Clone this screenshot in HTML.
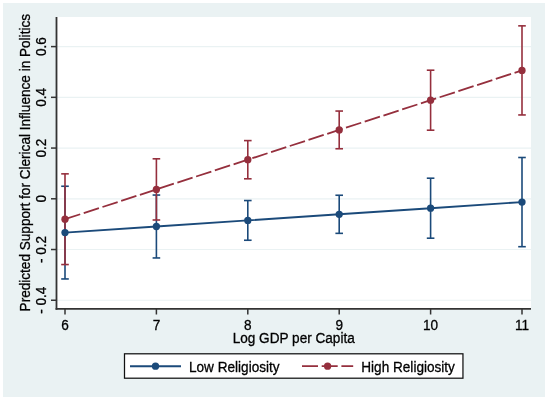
<!DOCTYPE html><html><head><meta charset="utf-8"><style>html,body{margin:0;padding:0;background:#fff;width:550px;height:400px;overflow:hidden}svg{display:block;will-change:transform;font-family:"Liberation Sans",sans-serif}</style></head><body>
<svg width="550" height="400" viewBox="0 0 550 400">
<rect x="0" y="0" width="550" height="400" fill="#fff"/>
<rect x="3" y="3" width="542" height="394" fill="#eaf2f3"/>
<rect x="57" y="17" width="474" height="291" fill="#fff"/>
<line x1="57" x2="531" y1="46.60" y2="46.60" stroke="#eaf2f3" stroke-width="1.2"/>
<line x1="57" x2="531" y1="97.33" y2="97.33" stroke="#eaf2f3" stroke-width="1.2"/>
<line x1="57" x2="531" y1="148.06" y2="148.06" stroke="#eaf2f3" stroke-width="1.2"/>
<line x1="57" x2="531" y1="198.79" y2="198.79" stroke="#eaf2f3" stroke-width="1.2"/>
<line x1="57" x2="531" y1="249.52" y2="249.52" stroke="#eaf2f3" stroke-width="1.2"/>
<line x1="57" x2="531" y1="300.25" y2="300.25" stroke="#eaf2f3" stroke-width="1.2"/>
<line x1="56.5" x2="56.5" y1="17" y2="309.8" stroke="#333" stroke-width="1.8"/>
<line x1="55.6" x2="531" y1="308.9" y2="308.9" stroke="#333" stroke-width="1.8"/>
<line x1="51" x2="56" y1="46.60" y2="46.60" stroke="#333" stroke-width="1.5"/>
<text transform="translate(46,46.60) rotate(-90) scale(0.9066666666666666,1)" text-anchor="middle" font-size="15.0" fill="#000" stroke="#000" stroke-width="0.3">0.6</text>
<line x1="51" x2="56" y1="97.33" y2="97.33" stroke="#333" stroke-width="1.5"/>
<text transform="translate(46,97.33) rotate(-90) scale(0.9066666666666666,1)" text-anchor="middle" font-size="15.0" fill="#000" stroke="#000" stroke-width="0.3">0.4</text>
<line x1="51" x2="56" y1="148.06" y2="148.06" stroke="#333" stroke-width="1.5"/>
<text transform="translate(46,148.06) rotate(-90) scale(0.9066666666666666,1)" text-anchor="middle" font-size="15.0" fill="#000" stroke="#000" stroke-width="0.3">0.2</text>
<line x1="51" x2="56" y1="198.79" y2="198.79" stroke="#333" stroke-width="1.5"/>
<text transform="translate(46,198.79) rotate(-90) scale(0.9066666666666666,1)" text-anchor="middle" font-size="15.0" fill="#000" stroke="#000" stroke-width="0.3">0</text>
<line x1="51" x2="56" y1="249.52" y2="249.52" stroke="#333" stroke-width="1.5"/>
<text transform="translate(46,249.52) rotate(-90) scale(0.9066666666666666,1)" text-anchor="middle" font-size="15.0" fill="#000" stroke="#000" stroke-width="0.3">- 0.2</text>
<line x1="51" x2="56" y1="300.25" y2="300.25" stroke="#333" stroke-width="1.5"/>
<text transform="translate(46,300.25) rotate(-90) scale(0.9066666666666666,1)" text-anchor="middle" font-size="15.0" fill="#000" stroke="#000" stroke-width="0.3">- 0.4</text>
<line x1="65" x2="65" y1="309" y2="314.5" stroke="#333" stroke-width="1.5"/>
<text transform="translate(65,329.6) scale(0.9066666666666666,1)" text-anchor="middle" font-size="15.0" fill="#000" stroke="#000" stroke-width="0.3">6</text>
<line x1="156.4" x2="156.4" y1="309" y2="314.5" stroke="#333" stroke-width="1.5"/>
<text transform="translate(156.4,329.6) scale(0.9066666666666666,1)" text-anchor="middle" font-size="15.0" fill="#000" stroke="#000" stroke-width="0.3">7</text>
<line x1="247.8" x2="247.8" y1="309" y2="314.5" stroke="#333" stroke-width="1.5"/>
<text transform="translate(247.8,329.6) scale(0.9066666666666666,1)" text-anchor="middle" font-size="15.0" fill="#000" stroke="#000" stroke-width="0.3">8</text>
<line x1="339.2" x2="339.2" y1="309" y2="314.5" stroke="#333" stroke-width="1.5"/>
<text transform="translate(339.2,329.6) scale(0.9066666666666666,1)" text-anchor="middle" font-size="15.0" fill="#000" stroke="#000" stroke-width="0.3">9</text>
<line x1="430.6" x2="430.6" y1="309" y2="314.5" stroke="#333" stroke-width="1.5"/>
<text transform="translate(430.6,329.6) scale(0.9066666666666666,1)" text-anchor="middle" font-size="15.0" fill="#000" stroke="#000" stroke-width="0.3">10</text>
<line x1="522" x2="522" y1="309" y2="314.5" stroke="#333" stroke-width="1.5"/>
<text transform="translate(522,329.6) scale(0.9066666666666666,1)" text-anchor="middle" font-size="15.0" fill="#000" stroke="#000" stroke-width="0.3">11</text>
<text transform="translate(293.7,342.8) scale(0.9066666666666666,1)" text-anchor="middle" font-size="15.0" fill="#000" stroke="#000" stroke-width="0.3">Log GDP per Capita</text>
<text transform="translate(29.6,162.7) rotate(-90) scale(0.9066666666666666,1)" text-anchor="middle" font-size="15.0" fill="#000" stroke="#000" stroke-width="0.3">Predicted Support for Clerical Influence in Politics</text>
<line x1="65" x2="65" y1="186.25" y2="278.95" stroke="#1b4a7a" stroke-width="1.6"/>
<line x1="61.20" x2="68.80" y1="186.25" y2="186.25" stroke="#1b4a7a" stroke-width="1.6"/>
<line x1="61.20" x2="68.80" y1="278.95" y2="278.95" stroke="#1b4a7a" stroke-width="1.6"/>
<line x1="156.4" x2="156.4" y1="195.05" y2="257.95" stroke="#1b4a7a" stroke-width="1.6"/>
<line x1="152.60" x2="160.20" y1="195.05" y2="195.05" stroke="#1b4a7a" stroke-width="1.6"/>
<line x1="152.60" x2="160.20" y1="257.95" y2="257.95" stroke="#1b4a7a" stroke-width="1.6"/>
<line x1="247.8" x2="247.8" y1="200.55" y2="240.25" stroke="#1b4a7a" stroke-width="1.6"/>
<line x1="244.00" x2="251.60" y1="200.55" y2="200.55" stroke="#1b4a7a" stroke-width="1.6"/>
<line x1="244.00" x2="251.60" y1="240.25" y2="240.25" stroke="#1b4a7a" stroke-width="1.6"/>
<line x1="339.2" x2="339.2" y1="195.25" y2="233.35" stroke="#1b4a7a" stroke-width="1.6"/>
<line x1="335.40" x2="343.00" y1="195.25" y2="195.25" stroke="#1b4a7a" stroke-width="1.6"/>
<line x1="335.40" x2="343.00" y1="233.35" y2="233.35" stroke="#1b4a7a" stroke-width="1.6"/>
<line x1="430.6" x2="430.6" y1="178.20" y2="238.20" stroke="#1b4a7a" stroke-width="1.6"/>
<line x1="426.80" x2="434.40" y1="178.20" y2="178.20" stroke="#1b4a7a" stroke-width="1.6"/>
<line x1="426.80" x2="434.40" y1="238.20" y2="238.20" stroke="#1b4a7a" stroke-width="1.6"/>
<line x1="522" x2="522" y1="157.50" y2="246.70" stroke="#1b4a7a" stroke-width="1.6"/>
<line x1="518.20" x2="525.80" y1="157.50" y2="157.50" stroke="#1b4a7a" stroke-width="1.6"/>
<line x1="518.20" x2="525.80" y1="246.70" y2="246.70" stroke="#1b4a7a" stroke-width="1.6"/>
<line x1="65" x2="65" y1="173.85" y2="264.55" stroke="#952f3d" stroke-width="1.6"/>
<line x1="61.20" x2="68.80" y1="173.85" y2="173.85" stroke="#952f3d" stroke-width="1.6"/>
<line x1="61.20" x2="68.80" y1="264.55" y2="264.55" stroke="#952f3d" stroke-width="1.6"/>
<line x1="156.4" x2="156.4" y1="158.80" y2="220.00" stroke="#952f3d" stroke-width="1.6"/>
<line x1="152.60" x2="160.20" y1="158.80" y2="158.80" stroke="#952f3d" stroke-width="1.6"/>
<line x1="152.60" x2="160.20" y1="220.00" y2="220.00" stroke="#952f3d" stroke-width="1.6"/>
<line x1="247.8" x2="247.8" y1="140.60" y2="178.80" stroke="#952f3d" stroke-width="1.6"/>
<line x1="244.00" x2="251.60" y1="140.60" y2="140.60" stroke="#952f3d" stroke-width="1.6"/>
<line x1="244.00" x2="251.60" y1="178.80" y2="178.80" stroke="#952f3d" stroke-width="1.6"/>
<line x1="339.2" x2="339.2" y1="111.05" y2="148.75" stroke="#952f3d" stroke-width="1.6"/>
<line x1="335.40" x2="343.00" y1="111.05" y2="111.05" stroke="#952f3d" stroke-width="1.6"/>
<line x1="335.40" x2="343.00" y1="148.75" y2="148.75" stroke="#952f3d" stroke-width="1.6"/>
<line x1="430.6" x2="430.6" y1="70.20" y2="130.20" stroke="#952f3d" stroke-width="1.6"/>
<line x1="426.80" x2="434.40" y1="70.20" y2="70.20" stroke="#952f3d" stroke-width="1.6"/>
<line x1="426.80" x2="434.40" y1="130.20" y2="130.20" stroke="#952f3d" stroke-width="1.6"/>
<line x1="522" x2="522" y1="25.85" y2="114.95" stroke="#952f3d" stroke-width="1.6"/>
<line x1="518.20" x2="525.80" y1="25.85" y2="25.85" stroke="#952f3d" stroke-width="1.6"/>
<line x1="518.20" x2="525.80" y1="114.95" y2="114.95" stroke="#952f3d" stroke-width="1.6"/>
<polyline points="65,232.6 156.4,226.5 247.8,220.4 339.2,214.3 430.6,208.2 522,202.1" fill="none" stroke="#1b4a7a" stroke-width="1.9"/>
<circle cx="65" cy="232.6" r="3.65" fill="#1b4a7a"/>
<circle cx="156.4" cy="226.5" r="3.65" fill="#1b4a7a"/>
<circle cx="247.8" cy="220.4" r="3.65" fill="#1b4a7a"/>
<circle cx="339.2" cy="214.3" r="3.65" fill="#1b4a7a"/>
<circle cx="430.6" cy="208.2" r="3.65" fill="#1b4a7a"/>
<circle cx="522" cy="202.1" r="3.65" fill="#1b4a7a"/>
<polyline points="65,219.2 156.4,189.4 247.8,159.7 339.2,129.9 430.6,100.2 522,70.4" fill="none" stroke="#952f3d" stroke-width="1.8" stroke-dasharray="16 3.7"/>
<circle cx="65" cy="219.2" r="3.65" fill="#952f3d"/>
<circle cx="156.4" cy="189.4" r="3.65" fill="#952f3d"/>
<circle cx="247.8" cy="159.7" r="3.65" fill="#952f3d"/>
<circle cx="339.2" cy="129.9" r="3.65" fill="#952f3d"/>
<circle cx="430.6" cy="100.2" r="3.65" fill="#952f3d"/>
<circle cx="522" cy="70.4" r="3.65" fill="#952f3d"/>
<rect x="124.5" y="353.8" width="338.45" height="24.4" fill="#fff" stroke="#111" stroke-width="1.25"/>
<line x1="130" x2="181" y1="366.2" y2="366.2" stroke="#1b4a7a" stroke-width="2"/>
<circle cx="155.5" cy="366.2" r="3.65" fill="#1b4a7a"/>
<text transform="translate(189,371.8) scale(0.9066666666666666,1)" font-size="15.0" fill="#000" stroke="#000" stroke-width="0.3">Low Religiosity</text>
<line x1="302" x2="353.2" y1="366.2" y2="366.2" stroke="#952f3d" stroke-width="1.8" stroke-dasharray="16 3.7"/>
<circle cx="327.6" cy="366.2" r="3.65" fill="#952f3d"/>
<text transform="translate(361.3,371.8) scale(0.9066666666666666,1)" font-size="15.0" fill="#000" stroke="#000" stroke-width="0.3">High Religiosity</text>
</svg></body></html>
